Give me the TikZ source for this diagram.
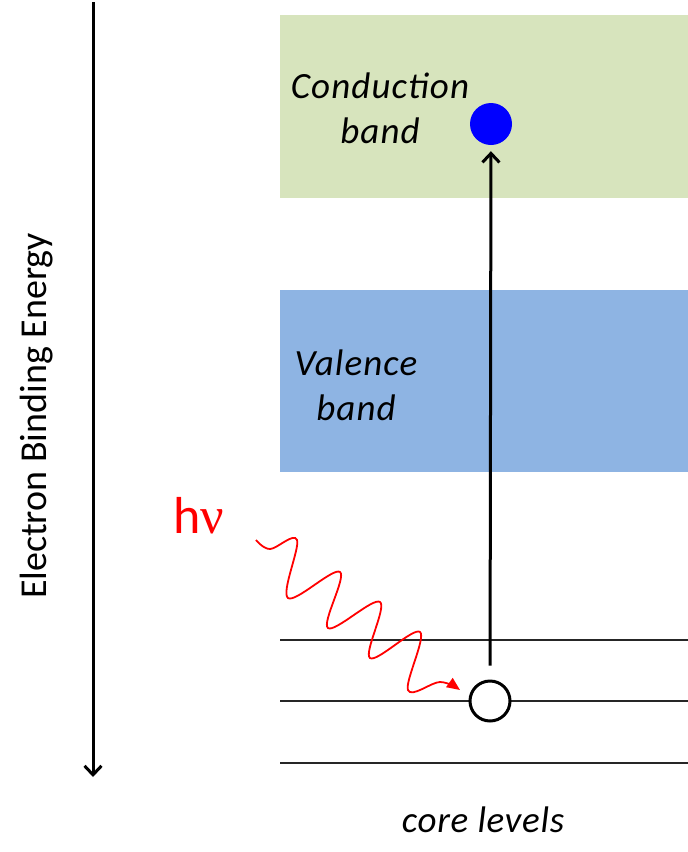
\documentclass[tikz,border=0pt]{standalone}
\usepackage{fontspec}
\setmainfont{Carlito}
\newfontfamily\greekfont{Liberation Serif}
\usepackage{xcolor}
\usetikzlibrary{arrows.meta,positioning}
\definecolor{condgreen}{HTML}{D7E4BD}
\definecolor{valblue}{HTML}{8EB4E3}
\definecolor{photonred}{HTML}{FF0000}
\tikzset{
  band/.style={draw=none, minimum width=408pt, minimum height=183pt, inner sep=0pt, anchor=north west},
  bandlabel/.style={font=\fontsize{37}{45}\selectfont\itshape\addfontfeature{LetterSpace=3}, align=center, inner sep=0pt},
  level/.style={draw=black!85, line width=2pt},
  electron/.style={circle, fill=blue, minimum size=42pt, inner sep=0pt},
  hole/.style={circle, draw=black, line width=3pt, fill=white, minimum size=40pt, inner sep=0pt},
  arrow/.style={-{Straight Barb[length=9pt, width=17pt]}, line width=3pt, draw=black},
  photon/.style={-{Triangle[length=13pt, width=11pt]}, line width=1.8pt, draw=photonred}
}

\begin{document}
\begin{tikzpicture}[x=1pt, y=-1pt]
  \useasboundingbox (0,0) rectangle (688,852);
  % bands
  \node[band, fill=condgreen] (conduction) at (280,15) {};
  \node[band, fill=valblue, minimum height=182pt] (valence) at (280,290) {};
  \node[bandlabel] (condlabel) at (380,108) {Conduction\\band};
  \node[bandlabel] (vallabel) at (356,385) {Valence\\band};

  % core levels
  \coordinate (lvlA) at (280,640);
  \coordinate (lvlB) at (280,701);
  \coordinate (lvlC) at (280,763);
  \draw[level] (lvlA) -- ++(408,0);
  \draw[level] (lvlB) -- ++(408,0);
  \draw[level] (lvlC) -- ++(408,0);
  \node[font=\fontsize{37}{42}\selectfont\itshape\addfontfeature{LetterSpace=2}] (corelabel) at (483,820) {core levels};

  % electron and hole
  \node[electron] (excited) at (491,124) {};
  \node[hole] (corehole) at (490,701) {};
  \draw[arrow, shorten <=14pt, shorten >=6pt] (corehole) -- (excited);

  % energy axis
  \coordinate (axtop) at (93,2);
  \coordinate (axbot) at (93,777);
  \draw[arrow] (axtop) -- (axbot);
  \node[rotate=90, font=\fontsize{38}{42}\selectfont] (axlabel) at (37,416) {Electron Binding Energy};

  % incoming photon
  \node[text=photonred, font=\fontsize{52}{56}\selectfont] (hnu) at (199,516) {h{\greekfont ν}};
  \coordinate (photonstart) at (256,540);
  \coordinate (photonend) at (460,690);
  \draw[photon] plot[smooth, tension=0.6] coordinates {(photonstart) (270,549) (297,540) (288,598) (340,572) (328,628) (380,602) (370,658) (420,632) (408,690) (440,682) (photonend)};
\end{tikzpicture}
\end{document}
